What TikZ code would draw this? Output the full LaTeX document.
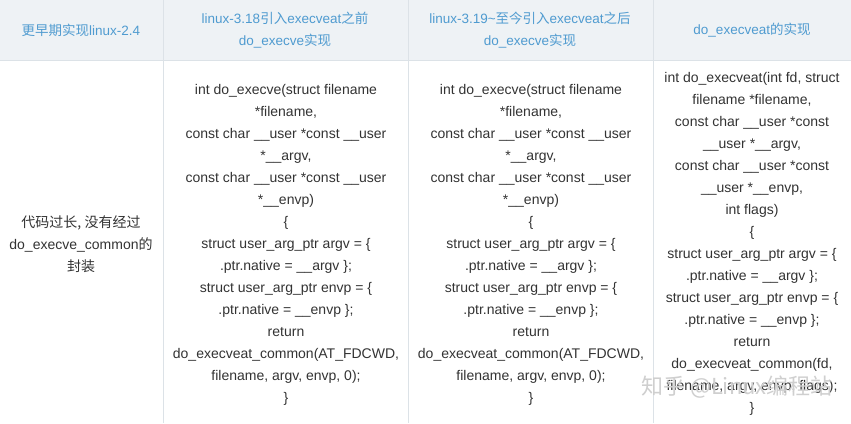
\documentclass[tikz,border=0pt]{standalone}
\usepackage{fontspec}
\setmainfont{Liberation Sans}
\newfontfamily\cjk{Noto Sans CJK SC}
\definecolor{hdrbg}{HTML}{EEF2F5}
\definecolor{grid}{HTML}{DCE2E7}
\definecolor{hdrtx}{HTML}{4F9BD0}
\definecolor{bodytx}{HTML}{333333}
\definecolor{wm}{HTML}{CFCFCF}
\begin{document}
\begin{tikzpicture}[x=1pt,y=-1pt,
  hdr/.style={align=center,text=hdrtx,font=\fontsize{13.5}{22}\selectfont,inner sep=0},
  cell/.style={align=center,text=bodytx,font=\fontsize{14}{22}\selectfont,inner sep=0}]
\useasboundingbox (0,0) rectangle (851,423);
\fill[white] (0,0) rectangle (851,423);
\fill[hdrbg] (0,0) rectangle (851,60);
\draw[grid] (0,60) -- (851,60);
\foreach \x in {163,408,653} \draw[grid] (\x,0) -- (\x,423);
\node[hdr] (h1) at (81,30) {\cjk 更早期实现\rmfamily linux-2.4};
\node[hdr] (h2) at (285,30) {linux-3.18{\cjk 引入}execveat{\cjk 之前}\\do\_execve{\cjk 实现}};
\node[hdr] (h3) at (530,30) {linux-3.19\textasciitilde{\cjk 至今引入}execveat{\cjk 之后}\\do\_execve{\cjk 实现}};
\node[hdr] (h4) at (752,30) {do\_execveat{\cjk 的实现}};
\node[cell] (c1) at (81,244) {{\cjk 代码过长, 没有经过}\\do\_execve\_common{\cjk 的}\\{\cjk 封装}};
\node[cell] (c2) at (286,245) {int do\_execve(struct filename\\*filename,\\const char \_\_user *const \_\_user\\*\_\_argv,\\const char \_\_user *const \_\_user\\*\_\_envp)\\\{\\struct user\_arg\_ptr argv = \{\\.ptr.native = \_\_argv \};\\struct user\_arg\_ptr envp = \{\\.ptr.native = \_\_envp \};\\return\\do\_execveat\_common(AT\_FDCWD,\\filename, argv, envp, 0);\\\}};
\node[cell] (c3) at (531,245) {int do\_execve(struct filename\\*filename,\\const char \_\_user *const \_\_user\\*\_\_argv,\\const char \_\_user *const \_\_user\\*\_\_envp)\\\{\\struct user\_arg\_ptr argv = \{\\.ptr.native = \_\_argv \};\\struct user\_arg\_ptr envp = \{\\.ptr.native = \_\_envp \};\\return\\do\_execveat\_common(AT\_FDCWD,\\filename, argv, envp, 0);\\\}};
\node[cell] (c4) at (752,244) {int do\_execveat(int fd, struct\\filename *filename,\\const char \_\_user *const\\\_\_user *\_\_argv,\\const char \_\_user *const\\\_\_user *\_\_envp,\\int flags)\\\{\\struct user\_arg\_ptr argv = \{\\.ptr.native = \_\_argv \};\\struct user\_arg\_ptr envp = \{\\.ptr.native = \_\_envp \};\\return\\do\_execveat\_common(fd,\\filename, argv, envp, flags);\\\}};
\node[text=wm,font=\cjk\fontsize{22}{22}\selectfont,inner sep=0] (wmk) at (737,387) {知乎 @Linux编程站};
\end{tikzpicture}
\end{document}
